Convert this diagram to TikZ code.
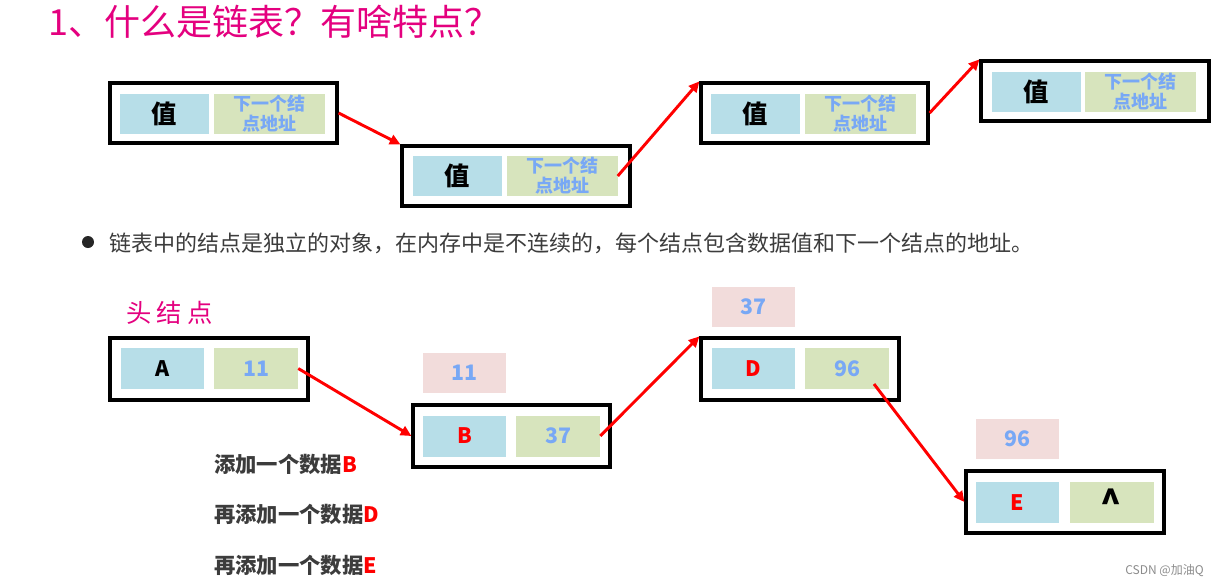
\documentclass[tikz,border=0pt]{standalone}
\usepackage{fontspec}
\setmainfont{Noto Sans CJK SC}
\usetikzlibrary{arrows.meta}
\definecolor{cellblue}{RGB}{183,222,232}
\definecolor{cellgreen}{RGB}{215,228,189}
\definecolor{cellpink}{RGB}{242,220,219}
\definecolor{ltblue}{RGB}{120,168,245}
\definecolor{titlepink}{RGB}{228,0,127}
\definecolor{darktext}{RGB}{60,60,60}
\definecolor{arrred}{RGB}{255,0,0}
\tikzset{
  box/.style 2 args={draw=black, line width=2.4pt, minimum width=#1*0.75pt, minimum height=#2*0.75pt, inner sep=0pt},
  cell/.style 2 args={minimum width=#1*0.75pt, minimum height=#2*0.75pt, inner sep=0pt, align=center, font=\bfseries},
  bluecell/.style={cell={89}{40}, fill=cellblue},
  greencell/.style={cell={111}{40}, fill=cellgreen, text=ltblue, font=\bfseries\fontsize{13.5}{15}\selectfont},
  sblue/.style={cell={83}{41}, fill=cellblue, font=\bfseries\fontsize{16}{18}\selectfont},
  sgreen/.style={cell={84}{41}, fill=cellgreen, font=\bfseries\fontsize{16}{18}\selectfont},
  spink/.style={cell={83}{40}, fill=cellpink, text=ltblue, font=\bfseries\fontsize{16}{18}\selectfont},
  link/.style={draw=arrred, line width=2.2pt, -{Triangle[length=8pt,width=7.5pt]}},
  addtext/.style={anchor=west, text=darktext, font=\bfseries\fontsize{16}{18}\selectfont, inner sep=0pt}
}
\begin{document}
\begin{tikzpicture}[x=0.75pt,y=-0.75pt]
\useasboundingbox[fill=white] (0,0) rectangle (1218,587);
% title
\node[anchor=west, text=titlepink, font=\fontsize{27}{29}\selectfont, inner sep=0pt] (title) at (48,22) {1、什么是链表？有啥特点？};
% top row boxes
\node[box={227}{60}] (b1) at (223.5,113) {};
\node[bluecell, font=\bfseries\fontsize{19}{21}\selectfont] (b1v) at (164.5,113.5) {值};
\node[greencell] (b1n) at (269.5,113.5) {下一个结\\点地址};
\node[box={228}{60}] (b2) at (516,176) {};
\node[bluecell, font=\bfseries\fontsize{19}{21}\selectfont] (b2v) at (457,176) {值};
\node[greencell] (b2n) at (562,176) {下一个结\\点地址};
\node[box={227}{60}] (b3) at (814.5,113) {};
\node[bluecell, font=\bfseries\fontsize{19}{21}\selectfont] (b3v) at (755.5,113.5) {值};
\node[greencell] (b3n) at (860.5,113.5) {下一个结\\点地址};
\node[box={228}{60}] (b4) at (1095,91) {};
\node[bluecell, font=\bfseries\fontsize{19}{21}\selectfont] (b4v) at (1036,91.5) {值};
\node[greencell] (b4n) at (1140.5,91.5) {下一个结\\点地址};
\draw[link] (b1.east) -- (b2.north west);
\draw[link] (b2n.east) -- (b3.north west);
\draw[link] (b3.east) -- (b4.north west);
% bullet
\node[circle, fill=black!85, minimum size=12*0.75pt, inner sep=0pt] (dot) at (88,242) {};
\node[anchor=west, text=darktext, font=\fontsize{16.5}{18}\selectfont, inner sep=0pt] (desc) at (109,243) {链表中的结点是独立的对象，在内存中是不连续的，每个结点包含数据值和下一个结点的地址。};
% head label
\node[anchor=west, text=titlepink, font=\fontsize{19}{21}\selectfont, inner sep=0pt] (head) at (126,313) {头\hspace{4pt}结\hspace{4pt}点};
% bottom boxes
\node[box={198}{62}] (bA) at (209,369) {};
\node[sblue] (bAv) at (162.5,368.5) {A};
\node[sgreen, text=ltblue] (bAn) at (256,368.5) {11};
\node[spink] (pB) at (464.5,373) {11};
\node[box={197}{62}] (bB) at (511.5,436) {};
\node[sblue, text=arrred] (bBv) at (464.5,436) {B};
\node[sgreen, text=ltblue] (bBn) at (558,436) {37};
\node[spink] (pD) at (753.5,306.5) {37};
\node[box={198}{62}] (bD) at (800,369) {};
\node[sblue, text=arrred] (bDv) at (753.5,368.5) {D};
\node[sgreen, text=ltblue] (bDn) at (847,368.5) {96};
\node[spink] (pE) at (1017.5,439) {96};
\node[box={198}{62}] (bE) at (1065,502) {};
\node[sblue, text=arrred] (bEv) at (1017.5,502.5) {E};
\node[sgreen, font=\bfseries\fontsize{26}{28}\selectfont] (bEn) at (1111.5,502.5) {\raisebox{-0.35ex}{\textasciicircum}};
\coordinate (dstart) at (874,384);
\draw[link] (bAn.east) -- (bB.west);
\draw[link] (bBn.east) -- (bD.north west);
\draw[link] (dstart) -- (bE.west);
% instructions
\node[addtext] (t1) at (214,464) {添加一个数据\textcolor{arrred}{B}};
\node[addtext] (t2) at (214,514) {再添加一个数据\textcolor{arrred}{D}};
\node[addtext] (t3) at (214,565) {再添加一个数据\textcolor{arrred}{E}};
% watermark
\node[anchor=east, text=black!45, font=\fontsize{9}{10}\selectfont, inner sep=0pt] (wm) at (1204,571) {CSDN @加油Q};
\end{tikzpicture}
\end{document}
